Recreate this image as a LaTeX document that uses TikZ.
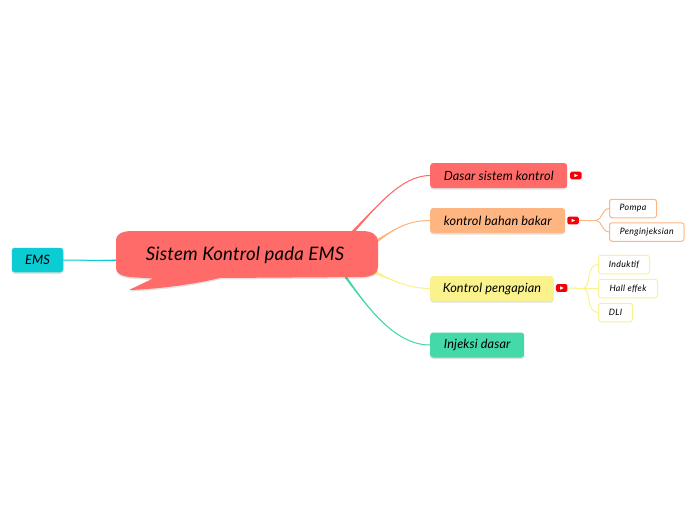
\documentclass[tikz,border=0pt]{standalone}
\usepackage{fontspec}
\setmainfont{Lato}
\usetikzlibrary{backgrounds,shadows,calc}
\definecolor{cred}{HTML}{FF6B68}
\definecolor{corange}{HTML}{FFB582}
\definecolor{cyellow}{HTML}{F9F28D}
\definecolor{cgreen}{HTML}{45D8A8}
\definecolor{ccyan}{HTML}{0BCBD3}
\definecolor{ytred}{HTML}{F40009}
\tikzset{
  softshadow/.style={drop shadow={shadow xshift=0pt,shadow yshift=-1.5pt,fill=black,opacity=.12}},
  topic/.style={rounded corners=3pt,minimum height=25pt,inner sep=0pt,anchor=west,softshadow,font=\itshape\fontsize{12.7}{15}\selectfont\addfontfeature{LetterSpace=1},text=black},
  sub/.style={draw,fill=white,line width=1pt,rounded corners=2.5pt,minimum height=18.5pt,inner sep=0pt,anchor=west,font=\itshape\fontsize{8.8}{10}\selectfont\addfontfeature{LetterSpace=4},text=black},
  yt/.style={fill=ytred,rounded corners=1.5pt,minimum width=11.5pt,minimum height=7.6pt,inner sep=0pt},
  ytplay/.style={fill=white},
  thin link/.style={line width=1pt,line cap=round},
}
% tapered connector: colour, half width, start, control 1, control 2, end
\newcommand{\taper}[6]{%
  \fill[#1] ($#3+(0,#2)$) .. controls #4 and #5 .. #6 .. controls #5 and #4 .. ($#3+(0,-#2)$) -- cycle;
  \draw[#1,line width=1pt] #3 .. controls #4 and #5 .. #6;
}
\begin{document}
\begin{tikzpicture}[x=1pt,y=-1pt]
\useasboundingbox (0,0) rectangle (696,520);
% root
\path[fill=cred,softshadow] (132,231) -- (362,231) .. controls (372,231) and (378,235) .. (378,241)
  -- (378,267) .. controls (378,273) and (372,277) .. (362,277) -- (220,278)
  .. controls (195,284) and (160,289) .. (129,290) -- (153,278.5) -- (130,277)
  .. controls (121,276) and (116,273) .. (116,268) -- (116,240) .. controls (116,235) and (121,231) .. (132,231) -- cycle;
\node[inner sep=0pt,font=\itshape\fontsize{18.6}{22}\selectfont\addfontfeature{LetterSpace=1},text=black] (root) at (245,255) {Sistem Kontrol pada EMS};
% topics
\node[topic,fill=cred,minimum width=137pt] (n1) at (430,175.5) {Dasar sistem kontrol};
\node[topic,fill=corange,minimum width=135pt] (n2) at (430,220.5) {kontrol bahan bakar};
\node[topic,fill=cyellow,minimum width=123.5pt] (n3) at (430,288.5) {Kontrol pengapian};
\node[topic,fill=cgreen,minimum width=94pt] (n4) at (430,345) {Injeksi dasar};
\node[rounded corners=3pt,minimum height=24.5pt,minimum width=51.5pt,inner sep=0pt,fill=ccyan,softshadow,font=\itshape\fontsize{13}{15}\selectfont] (ems) at (37.5,260) {EMS};
% video icons
\node[yt] (y1) at (575.8,175.5) {};
\node[yt] (y2) at (573,220.5) {};
\node[yt] (y3) at (561.7,288) {};
\foreach \i in {y1,y2,y3} \fill[ytplay] ($(\i)+(-1.5,-1.7)$) -- ($(\i)+(2,0)$) -- ($(\i)+(-1.5,1.7)$) -- cycle;
% subtopics
\node[sub,draw=corange,minimum width=47pt] (p1) at (609,208.5) {Pompa};
\node[sub,draw=corange,minimum width=74.5pt] (p2) at (609,232) {Penginjeksian};
\node[sub,draw=cyellow,minimum width=51pt] (k1) at (598,264.5) {Induktif};
\node[sub,draw=cyellow,minimum width=59pt] (k2) at (598,288.5) {Hall effek};
\node[sub,draw=cyellow,minimum width=34pt] (k3) at (598,312.5) {DLI};
\coordinate (hub2) at (596,220.5);
\coordinate (hub3) at (583,288.5);
\begin{scope}[on background layer]
  \taper{cred}{2.2}{(352,233)}{(378,205)}{(402,175.5)}{(n1.west)}
  \taper{corange}{2.2}{(374,243)}{(392,231)}{(405,220.5)}{(n2.west)}
  \taper{cyellow}{2.2}{(372,271)}{(392,280)}{(408,288.5)}{(n3.west)}
  \taper{cgreen}{2.2}{(345,276)}{(368,308)}{(395,345)}{(n4.west)}
  \taper{ccyan}{.8}{(118,260.3)}{(100,260.3)}{(80,260.3)}{(ems.east)}
  \draw[corange,thin link] (y2.east) -- (hub2);
  \draw[corange,thin link] (hub2) .. controls (602,220.5) and (602,208.5) .. (p1.west);
  \draw[corange,thin link] (hub2) .. controls (602,220.5) and (602,232) .. (p2.west);
  \draw[cyellow,thin link] (y3.east) -- (hub3);
  \draw[cyellow,thin link] (hub3) .. controls (591,288.5) and (586,264.5) .. (k1.west);
  \draw[cyellow,thin link] (hub3) -- (k2.west);
  \draw[cyellow,thin link] (hub3) .. controls (591,288.5) and (586,312.5) .. (k3.west);
\end{scope}
\end{tikzpicture}
\end{document}
